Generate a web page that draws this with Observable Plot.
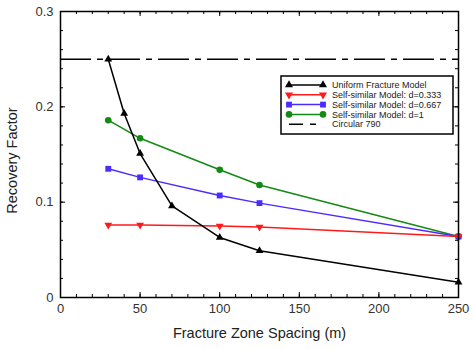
<!DOCTYPE html>
<html>
<head>
<meta charset="utf-8">
<script src="https://cdn.jsdelivr.net/npm/d3@7"></script>
<script src="https://cdn.jsdelivr.net/npm/@observablehq/plot@0.6"></script>
<style>
  html, body { margin: 0; padding: 0; background: #fff; }
  #wrap { position: relative; width: 474px; height: 349px; font-family: "Liberation Sans", Arial, sans-serif; }
  #legend { position: absolute; left: 280px; top: 75px; }
</style>
</head>
<body>
<div id="wrap"></div>
<script>
// ---- data ----
const uniformX = [30, 40, 50, 70, 100, 125, 250];
const uniformY = [0.25, 0.193, 0.151, 0.096, 0.063, 0.049, 0.016];
const ssX = [30, 50, 100, 125, 250];
const ss0333 = [0.076, 0.076, 0.075, 0.074, 0.064];
const ss0667 = [0.135, 0.126, 0.107, 0.099, 0.064];
const ss1 = [0.186, 0.167, 0.134, 0.118, 0.064];
const circular790 = 0.25;
const seriesNames = ["Uniform Fracture Model", "Self-similar Model: d=0.333", "Self-similar Model: d=0.667", "Self-similar Model: d=1", "Circular 790"];
const seriesColors = ["#000000", "#ff1a1a", "#4a2cff", "#138a13", "#000000"];
const seriesSymbols = ["triangle", "triangle-down", "square", "circle", null];
const xTicks = [0, 50, 100, 150, 200, 250];
const xMinor = d3.range(0, 251, 10);
const yTicks = [0, 0.1, 0.2, 0.3];
const yMinor = d3.range(0, 0.3001, 0.02);

// ---- build table ----
const rows = [];
uniformX.forEach((x, i) => rows.push({series: seriesNames[0], x, y: uniformY[i]}));
[ss0333, ss0667, ss1].forEach((arr, k) => ssX.forEach((x, i) => rows.push({series: seriesNames[k + 1], x, y: arr[i]})));

const W = 474, H = 349, mL = 60, mR = 16, mT = 11, mB = 52;
const ph = H - mT - mB, pw = W - mL - mR;
const font = "'Liberation Sans', Arial, sans-serif";
const dashPattern = "31,6,6,6";

function markFor(i) {
  const data = rows.filter(d => d.series === seriesNames[i]);
  const sym = seriesSymbols[i];
  const base = {x: "x", y: "y", fill: seriesColors[i], stroke: "none"};
  let dot;
  if (sym === "triangle") dot = Plot.dot(data, {...base, symbol: "triangle", r: 2.9});
  else if (sym === "triangle-down") dot = Plot.dot(data, {...base, symbol: "triangle", r: 2.9, rotate: 180});
  else if (sym === "square") dot = Plot.dot(data, {...base, symbol: "square", r: 3.3});
  else dot = Plot.dot(data, {...base, symbol: "circle", r: 3.3});
  return [Plot.line(data, {x: "x", y: "y", stroke: seriesColors[i], strokeWidth: 1.5}), dot];
}

const chart = Plot.plot({
  width: W, height: H,
  marginLeft: mL, marginRight: mR, marginTop: mT, marginBottom: mB,
  style: {fontFamily: font, fontSize: "13px", color: "#222", background: "#fff"},
  x: {domain: [0, 250]},
  y: {domain: [0, 0.3]},
  marks: [
    Plot.ruleY([circular790], {stroke: "#000", strokeWidth: 1.5, strokeDasharray: dashPattern}),
    ...markFor(3), ...markFor(2), ...markFor(1), ...markFor(0),
    // ticks (inside)
    Plot.ruleX(xMinor, {stroke: "#000", insetTop: ph - 3}),
    Plot.ruleX(xMinor, {stroke: "#000", insetBottom: ph - 3}),
    Plot.ruleX(xTicks, {stroke: "#000", insetTop: ph - 5}),
    Plot.ruleX(xTicks, {stroke: "#000", insetBottom: ph - 5}),
    Plot.ruleY(yMinor, {stroke: "#000", insetRight: pw - 3}),
    Plot.ruleY(yMinor, {stroke: "#000", insetLeft: pw - 3}),
    Plot.ruleY(yTicks, {stroke: "#000", insetRight: pw - 5}),
    Plot.ruleY(yTicks, {stroke: "#000", insetLeft: pw - 5}),
    Plot.axisX(xTicks, {tickSize: 0, tickPadding: 6, label: null, fontSize: 13, fill: "#333", tickFormat: d => String(d)}),
    Plot.axisY(yTicks, {tickSize: 0, tickPadding: 7, label: null, fontSize: 13, fill: "#333", tickFormat: d => d === 0 ? "0" : d.toFixed(1)}),
    Plot.frame({stroke: "#000", strokeWidth: 1.5}),
    Plot.text(["Fracture Zone Spacing (m)"], {frameAnchor: "bottom", dy: 40, fontSize: 14.5, fill: "#222"}),
    Plot.text(["Recovery Factor"], {frameAnchor: "left", textAnchor: "middle", dx: -48, dy: 6, rotate: -90, fontSize: 14.5, fill: "#222"})
  ]
});
const wrap = document.getElementById("wrap");
wrap.appendChild(chart);

// ---- legend ----
const lw = 172, lh = 58;
const leg = d3.select(wrap).append("svg").attr("id", "legend").attr("width", lw + 2).attr("height", lh + 2);
leg.append("rect").attr("x", 1).attr("y", 1).attr("width", lw).attr("height", lh)
  .attr("fill", "#fff").attr("stroke", "#000").attr("stroke-width", 1.5);
seriesNames.forEach((name, i) => {
  const cy = 10 + i * 9.8;
  const g = leg.append("g");
  const c = seriesColors[i];
  if (seriesSymbols[i]) {
    g.append("line").attr("x1", 9).attr("x2", 43).attr("y1", cy).attr("y2", cy).attr("stroke", c).attr("stroke-width", 1.5);
    [9, 43].forEach(px => {
      const s = seriesSymbols[i];
      const type = s === "circle" ? d3.symbolCircle : s === "square" ? d3.symbolSquare : d3.symbolTriangle;
      const size = s === "circle" ? 34 : s === "square" ? 34 : 28;
      g.append("path").attr("d", d3.symbol(type, size)())
        .attr("transform", `translate(${px},${cy})` + (s === "triangle-down" ? " rotate(180)" : ""))
        .attr("fill", c);
    });
  } else {
    g.append("line").attr("x1", 9).attr("x2", 43).attr("y1", cy).attr("y2", cy).attr("stroke", c)
      .attr("stroke-width", 1.5).attr("stroke-dasharray", "14,7,6,7");
  }
  g.append("text").attr("x", 52).attr("y", cy).attr("dy", "0.35em")
    .attr("font-family", font).attr("font-size", 9).attr("fill", "#222").text(name);
});
</script>
</body>
</html>
